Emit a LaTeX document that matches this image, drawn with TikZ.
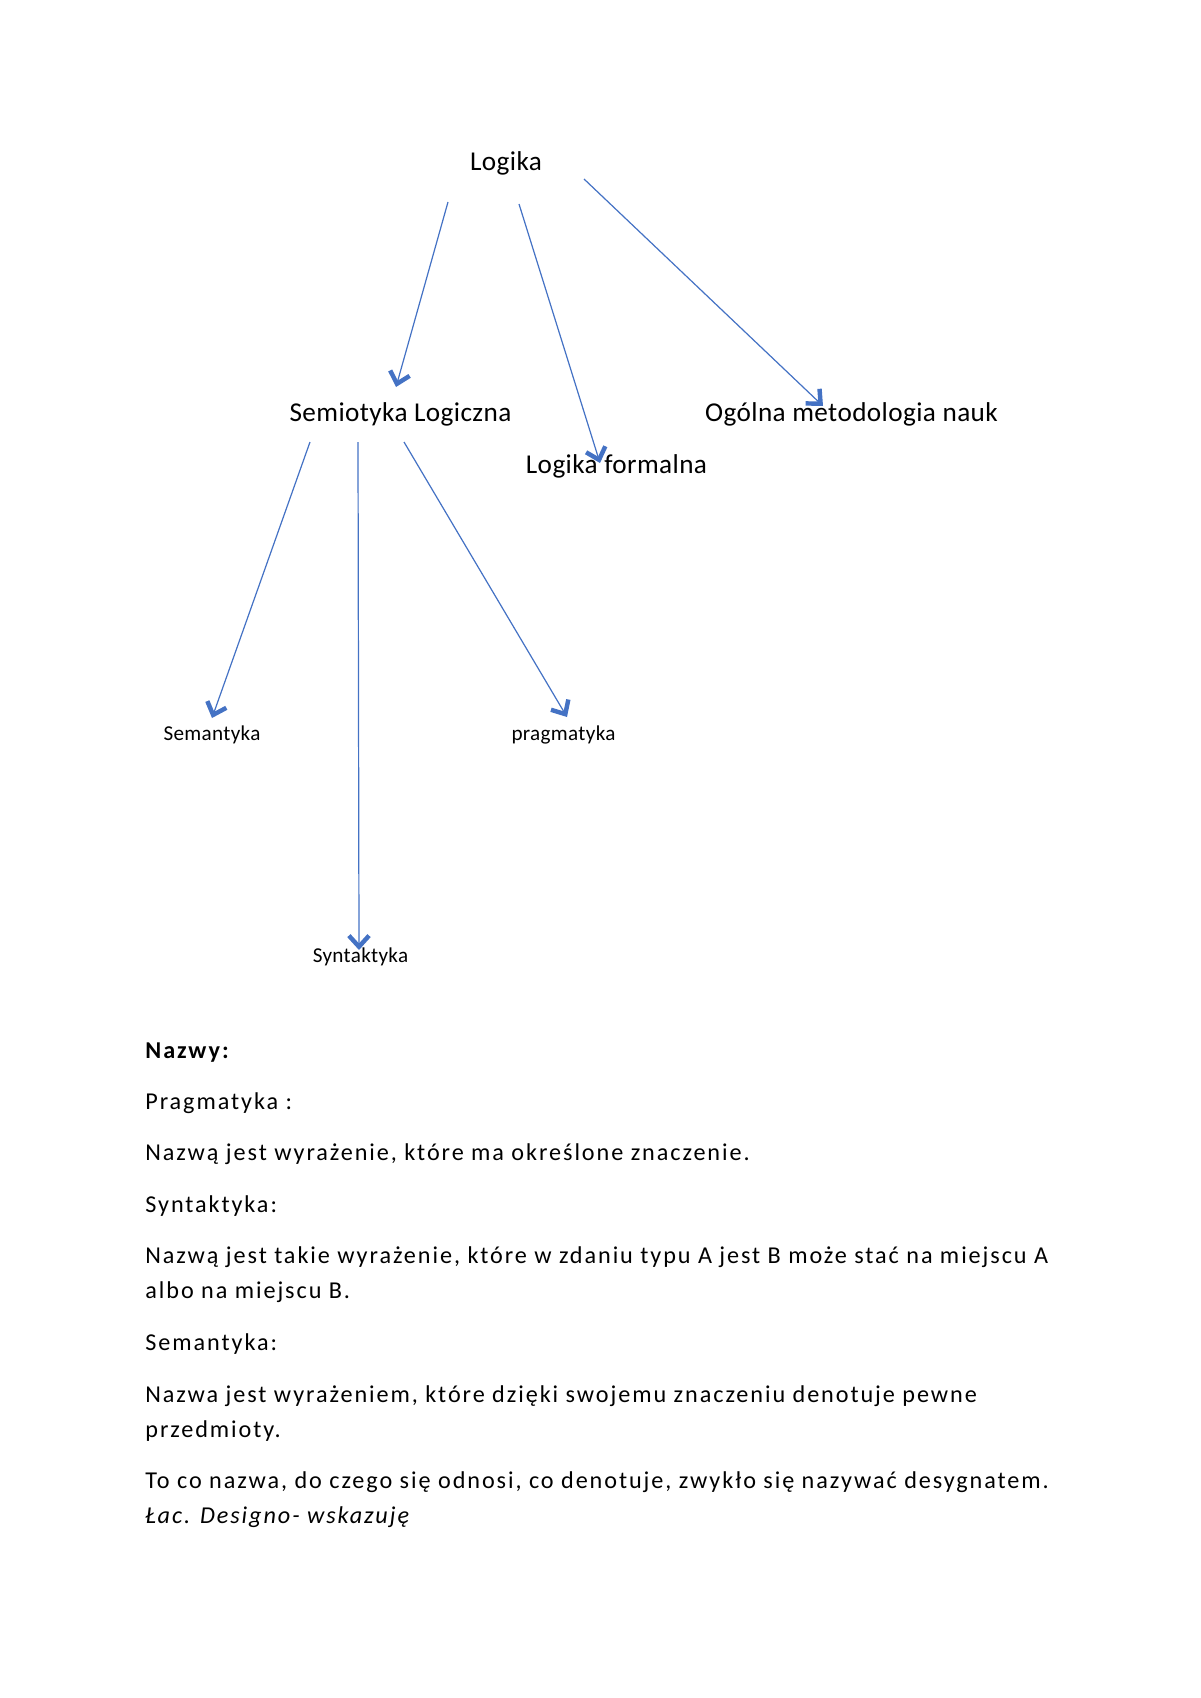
\documentclass[tikz,border=0pt]{standalone}
\usepackage{fontspec}
\setmainfont{Carlito}
\newfontfamily\labelfont{Carlito}[LetterSpace=1.5]
\newfontfamily\bodyfont{Carlito}[LetterSpace=8]
\usepackage{tikz}
\usetikzlibrary{calc, arrows.meta}
\definecolor{wordblue}{RGB}{68,114,196}

\tikzset{
  link/.style={wordblue, line width=0.6pt,
    -{Straight Barb[length=5.5pt,width=10pt,line width=2.2pt]}},
  bigtxt/.style={font=\labelfont\fontsize{13.5}{16}\selectfont, inner sep=0pt, anchor=base},
  smalltxt/.style={font=\labelfont\fontsize{10.5}{13}\selectfont, inner sep=0pt, anchor=base},
  bodytxt/.style={font=\bodyfont\fontsize{12}{14}\selectfont, inner sep=0pt, anchor=base west},
}

\begin{document}
\begin{tikzpicture}[x=0.4961pt, y=-0.4961pt]
    \useasboundingbox (0,0) rectangle (1200,1698);

    % diagram
    \node[bigtxt] (logika) at (506,170) {Logika};
    \node[bigtxt] (semiotyka) at (400.5,421) {Semiotyka Logiczna};
    \node[bigtxt] (formalna) at (616.5,473) {Logika formalna};
    \node[bigtxt] (metodologia) at (851.5,421) {Ogólna metodologia nauk};
    \node[smalltxt] (semantyka) at (212,740) {Semantyka};
    \node[smalltxt] (pragmatyka) at (563.5,740) {pragmatyka};
    \node[smalltxt] (syntaktyka) at (360.5,962) {Syntaktyka};

    \draw[link] ($(logika.base)+(-58,32)$) -- ($(semiotyka.base)+(-4.5,-34)$);
    \draw[link] ($(logika.base)+(13,34)$) -- ($(formalna.base)+(-16.5,-10)$);
    \draw[link] ($(logika.base)+(78,9)$) -- ($(metodologia.base)+(-28.5,-15)$);
    \draw[link] ($(semiotyka.base)+(-90.5,21)$) -- ($(semantyka.base)+(0,-22)$);
    \draw[link] ($(semiotyka.base)+(-42.5,21)$) -- ($(syntaktyka.base)+(-1.5,-12)$);
    \draw[link] ($(semiotyka.base)+(3.5,21)$) -- ($(pragmatyka.base)+(3.5,-23)$);

    % notes below
    \node[bodytxt] (nazwy) at (145,1058) {\textbf{Nazwy:}};
    \node[bodytxt] (pragmHead) at (145,1109) {Pragmatyka :};
    \node[bodytxt] (pragmDef) at (145,1160) {Nazwą jest wyrażenie, które ma określone znaczenie.};
    \node[bodytxt] (syntHead) at (145,1212) {Syntaktyka:};
    \node[bodytxt] (syntDefA) at (145,1263) {Nazwą jest takie wyrażenie, które w zdaniu typu A jest B może stać na miejscu A};
    \node[bodytxt] (syntDefB) at (145,1298) {albo na miejscu B.};
    \node[bodytxt] (semHead) at (145,1350) {Semantyka:};
    \node[bodytxt] (semDefA) at (145,1402) {Nazwa jest wyrażeniem, które dzięki swojemu znaczeniu denotuje pewne};
    \node[bodytxt] (semDefB) at (145,1437) {przedmioty.};
    \node[bodytxt] (desygA) at (145,1488) {To co nazwa, do czego się odnosi, co denotuje, zwykło się nazywać desygnatem.};
    \node[bodytxt] (desygB) at (145,1523) {\textit{Łac. Designo- wskazuję}};
\end{tikzpicture}
\end{document}
